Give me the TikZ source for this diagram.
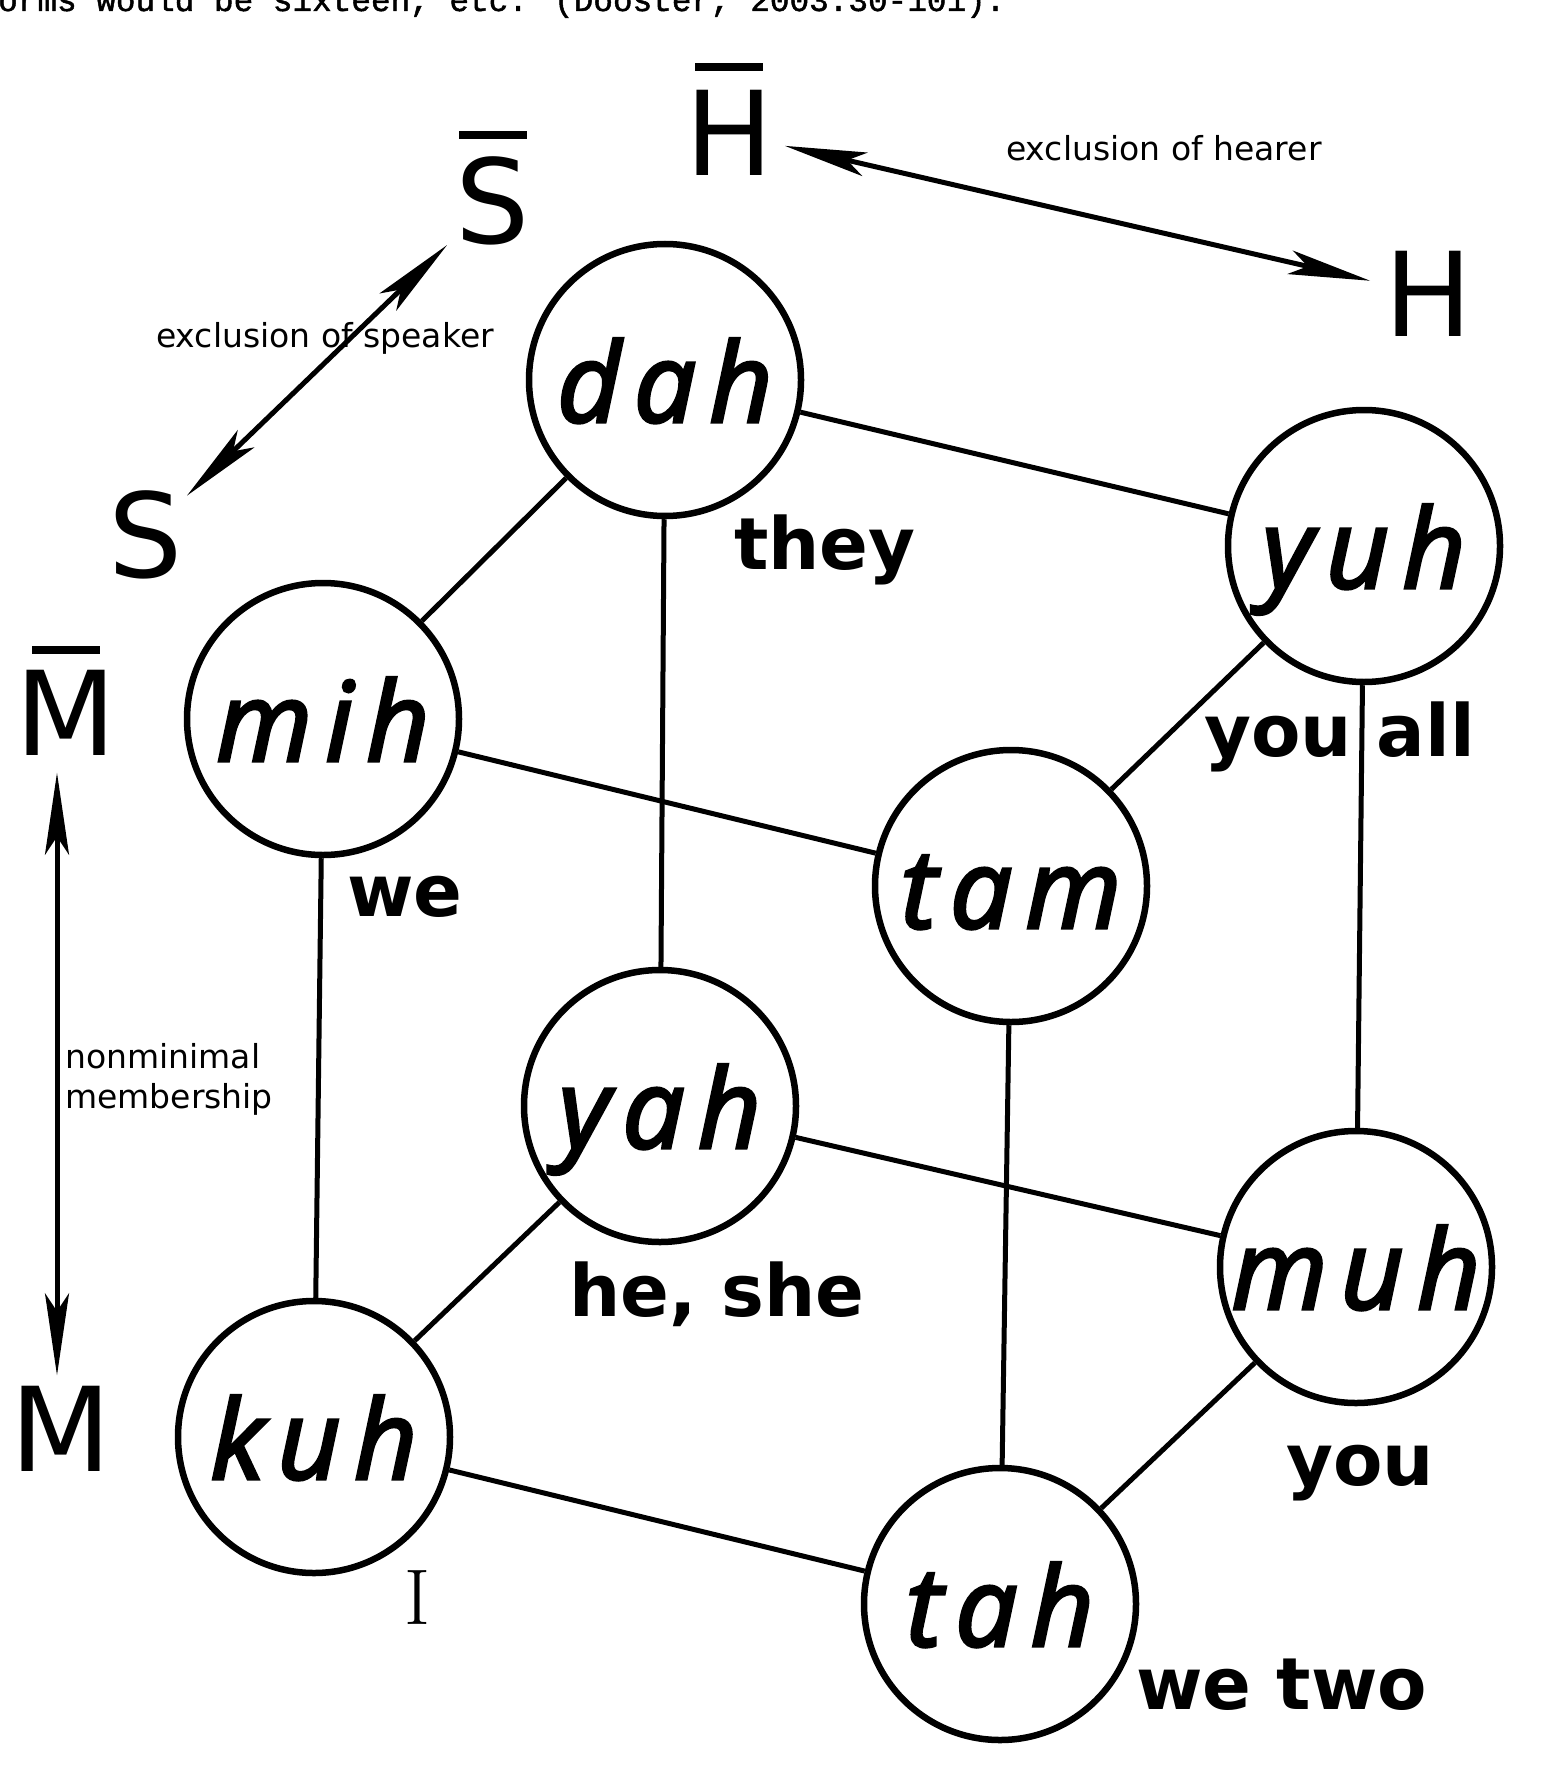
\documentclass[tikz,border=0pt]{standalone}
\usepackage{fontspec}
\usetikzlibrary{arrows.meta}
\newfontfamily\labsans{DejaVu Sans}
\newfontfamily\formfont{Open Sans}[ItalicFeatures={FakeBold=3, LetterSpace=12}]
\newfontfamily\topfont{Liberation Mono}[FakeBold=1.5]
\tikzset{
  circ/.style={circle, draw, line width=6.5pt, minimum size=272pt, inner sep=0pt,
    font={\formfont\itshape\fontsize{110pt}{110pt}\selectfont}, text height=84pt, text depth=0pt},
  edge/.style={line width=5pt},
  lab/.style={font={\labsans\bfseries\fontsize{72pt}{72pt}\selectfont}, inner sep=0pt, anchor=base west},
  small/.style={font={\labsans\fontsize{33pt}{33pt}\selectfont}, inner sep=0pt, anchor=base west},
  letter/.style={font={\labsans\fontsize{117pt}{117pt}\selectfont}, inner sep=0pt, text height=85pt, text depth=0pt},
  bar/.style={line width=8pt},
  tip/.tip={Stealth[length=82pt,width=24pt,inset=18pt]},
  dblarrow/.style={line width=5pt, tip-tip}
}
\begin{document}
\begin{tikzpicture}[x=1pt,y=-1pt]
\useasboundingbox (0,0) rectangle (1560,1776);
\clip (0,0) rectangle (1560,1776);
\node[anchor=base west, inner sep=0pt, font={\topfont\fontsize{32.7pt}{33pt}\selectfont}] (top) at (-2,11) {orms would be sixteen, etc. (Dooster, 2003:30-101).};
% cube vertices
\node[circ] (dah) at (665,380) {dah};
\node[circ] (yuh) at (1364,546) {yuh};
\node[circ] (mih) at (323,719) {mih};
\node[circ] (tam) at (1011,886) {tam};
\node[circ] (yah) at (660,1106) {yah};
\node[circ] (muh) at (1356,1267) {muh};
\node[circ] (kuh) at (314,1437) {kuh};
\node[circ] (tah) at (1000,1604) {tah};
% cube edges
\draw[edge] (dah) -- (yuh);
\draw[edge] (dah) -- (mih);
\draw[edge] (dah) -- (yah);
\draw[edge] (mih) -- (tam);
\draw[edge] (mih) -- (kuh);
\draw[edge] (yuh) -- (tam);
\draw[edge] (yuh) -- (muh);
\draw[edge] (tam) -- (tah);
\draw[edge] (yah) -- (muh);
\draw[edge] (yah) -- (kuh);
\draw[edge] (kuh) -- (tah);
\draw[edge] (muh) -- (tah);
% glosses
\node[lab] (they) at (734,569) {they};
\node[lab] (we) at (347,916) {we};
\node[lab] (youall) at (1204,756) {you all};
\node[lab] (heshe) at (569,1316) {he, she};
\node[lab] (you) at (1286,1485) {you};
\node[lab] (wetwo) at (1136,1709) {we two};
\node[anchor=base, inner sep=0pt, font={\fontsize{79pt}{79pt}\selectfont}] (I) at (417,1624) {I};
% feature letters
\node[letter] (Sbar) at (493,201) {S};
\node[letter] (S) at (146,535) {S};
\node[letter] (Hbar) at (729,133) {H};
\node[letter] (H) at (1428,294) {H};
\node[letter] (Mbar) at (66,713) {M};
\node[letter] (M) at (61,1429) {M};
\draw[bar] ([xshift=-34pt,yshift=23pt]Sbar.north) -- ([xshift=34pt,yshift=23pt]Sbar.north);
\draw[bar] ([xshift=-34pt,yshift=23pt]Hbar.north) -- ([xshift=34pt,yshift=23pt]Hbar.north);
\draw[bar] ([xshift=-34pt,yshift=20pt]Mbar.north) -- ([xshift=34pt,yshift=20pt]Mbar.north);
% feature arrows
\draw[dblarrow, shorten <=5pt, shorten >=12pt] (S) -- (Sbar);
\draw[dblarrow, shorten <=12pt, shorten >=14pt] (Hbar) -- (H);
\draw[dblarrow] ([xshift=-9pt,yshift=-17pt]Mbar.south) -- ([xshift=-4pt,yshift=11pt]M.north);
% feature labels
\node[small] (exs) at (156,347) {exclusion of speaker};
\node[small] (exh) at (1006,161) {exclusion of hearer};
\node[small] (nonmin) at (65,1068) {nonminimal};
\node[small] (memb) at (65,1108) {membership};
\end{tikzpicture}
\end{document}
